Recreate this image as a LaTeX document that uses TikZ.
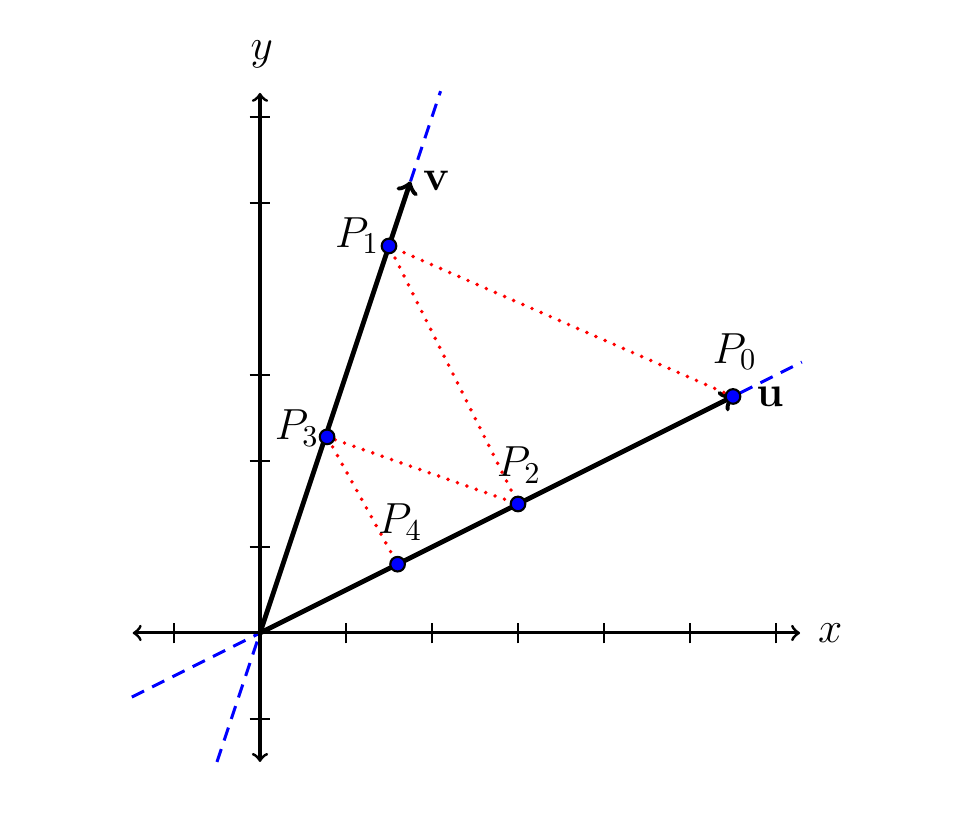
\documentclass[tikz,border=0pt]{standalone}
\usetikzlibrary{arrows}
\begin{document}
\begin{tikzpicture}[
  axis/.style={line width=1pt,<->},
  vec/.style={line width=1.6pt,->},
  span/.style={blue,line width=1pt,dash pattern=on 4.5pt off 3pt},
  proj/.style={red,line width=1.3pt,line cap=round,dash pattern=on 0pt off 3.3pt},
  pt/.style={circle,fill=blue,draw=black,line width=0.7pt,inner sep=0pt,minimum size=0.17cm},
  lbl/.style={font=\Large},
  tick/.style={line width=0.6pt}
]
\useasboundingbox (-3.023,-2.174) rectangle (8.116,7.360);
\coordinate (O) at (0,0);
% span lines
\coordinate (ua) at (-1.49,-0.745);
\coordinate (ub) at (6.30,3.15);
\coordinate (va) at (-0.5,-1.5);
\coordinate (vb) at (2.1,6.3);
\draw[span] (ua) -- (ub);
\draw[span] (va) -- (vb);
% axes
\coordinate (xl) at (-1.48,0);
\coordinate (xr) at (6.28,0);
\coordinate (yb) at (0,-1.5);
\coordinate (yt) at (0,6.28);
\draw[axis] (xl) -- (xr);
\draw[axis] (yb) -- (yt);
\foreach \x in {-1,1,2,3,4,5,6} \draw[tick] (\x,-0.12) -- (\x,0.12);
\foreach \y in {-1,1,2,3,5,6} \draw[tick] (-0.12,\y) -- (0.12,\y);
\node[lbl] (xlab) at (6.63,0) {$x$};
\node[lbl] (ylab) at (0.02,6.73) {$y$};
% vectors
\coordinate (U) at (5.5,2.75);
\coordinate (V) at (1.75,5.25);
\draw[vec] (O) -- (U);
\draw[vec] (O) -- (V);
\node[lbl] (ulab) at (5.93,2.74) {$\mathbf{u}$};
\node[lbl] (vlab) at (2.05,5.26) {$\mathbf{v}$};
% points
\coordinate (c0) at (5.5,2.75);
\coordinate (c1) at (1.5,4.5);
\coordinate (c2) at (3.0,1.5);
\coordinate (c3) at (0.78,2.28);
\coordinate (c4) at (1.6,0.8);
\draw[proj] (c0) -- (c1) -- (c2) -- (c3) -- (c4);
\node[pt] (P0) at (c0) {};
\node[pt] (P1) at (c1) {};
\node[pt] (P2) at (c2) {};
\node[pt] (P3) at (c3) {};
\node[pt] (P4) at (c4) {};
\node[lbl] (l0) at (5.52,3.27) {$P_0$};
\node[lbl] (l1) at (1.13,4.62) {$P_1$};
\node[lbl] (l2) at (3.01,1.95) {$P_2$};
\node[lbl] (l3) at (0.43,2.38) {$P_3$};
\node[lbl] (l4) at (1.63,1.29) {$P_4$};
\end{tikzpicture}
\end{document}
